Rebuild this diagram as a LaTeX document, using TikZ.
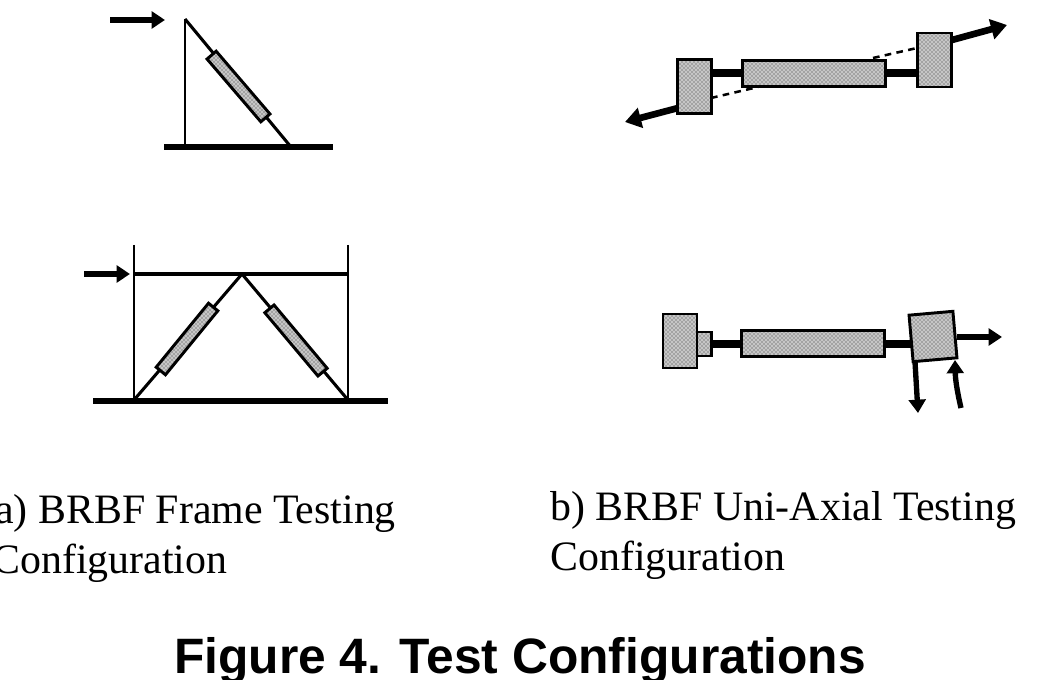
\documentclass[tikz,border=0pt]{standalone}
\usepackage{fontspec}
\usepackage{xcolor}
\setmainfont{Liberation Serif}
\setsansfont{Liberation Sans}
\usetikzlibrary{arrows.meta,positioning,patterns}

\begin{document}
\begin{tikzpicture}[
    x=0.75pt, y=-0.75pt,
    ground/.style={line width=4.2pt},
    member/.style={line width=2.3pt},
    thin member/.style={line width=2pt},
    rod/.style={line width=6pt},
    load/.style={line width=4pt, -{Triangle[length=10pt,width=12.5pt]}},
    big load/.style={line width=5pt, -{Triangle[length=12pt,width=15pt]}},
    tie/.style={line width=1.9pt, dash pattern=on 5pt off 4pt},
    brace/.style={rectangle, draw, line width=2.2pt, preaction={fill=gray!45}, pattern=crosshatch dots, pattern color=black!80, minimum width=62pt, minimum height=9pt, inner sep=0pt, outer sep=0pt},
    core/.style={brace, minimum height=19pt, minimum width=107pt},
    block/.style={brace, minimum width=0pt, minimum height=0pt},
    caption/.style={anchor=base west, inner sep=0pt, font=\fontsize{31.4pt}{34pt}\selectfont}]
    \useasboundingbox (0,0) rectangle (1037,680);

    % top left frame
    \coordinate (apex) at (185,19);
    \coordinate (foot) at (185,147);
    \coordinate (toe) at (291,147);
    \coordinate (gndA) at (164,147);
    \coordinate (gndB) at (333,147);
    \coordinate (pushA) at (110,20);
    \coordinate (pushB) at (165,20);
    \draw[thin member] (apex) -- (foot);
    \draw[member] (apex) -- (toe);
    \draw[ground] (gndA) -- (gndB);
    \draw[load] (pushA) -- (pushB);
    \node[brace, rotate=-49.4] (brace1) at (238.5,86.5) {};

    % bottom left frame
    \coordinate (colA) at (134,245);
    \coordinate (colB) at (348,245);
    \coordinate (baseA) at (134,400);
    \coordinate (baseB) at (348,400);
    \coordinate (beamA) at (134,274);
    \coordinate (beamB) at (348,274);
    \coordinate (peak) at (242,274);
    \coordinate (floorA) at (93,401);
    \coordinate (floorB) at (388,401);
    \coordinate (shoveA) at (84,274);
    \coordinate (shoveB) at (130,274);
    \draw[thin member] (colA) -- (baseA);
    \draw[thin member] (colB) -- (baseB);
    \draw[member] (beamA) -- (beamB);
    \draw[member] (baseA) -- (peak);
    \draw[member] (peak) -- (baseB);
    \draw[ground] (floorA) -- (floorB);
    \draw[load] (shoveA) -- (shoveB);
    \node[brace, rotate=50.7] (brace2) at (187,339) {};
    \node[brace, rotate=-50] (brace3) at (296,340.5) {};

    % top right specimen
    \coordinate (rodA) at (711,73);
    \coordinate (rodB) at (917,73);
    \coordinate (tieA) at (711,98);
    \coordinate (tieB) at (758,87);
    \coordinate (tieC) at (873,58);
    \coordinate (tieD) at (917,48);
    \coordinate (pullA) at (952,40);
    \coordinate (pullB) at (1007,25);
    \coordinate (pullC) at (678,108);
    \coordinate (pullD) at (625,122);
    \draw[rod] (rodA) -- (rodB);
    \draw[tie] (tieA) -- (tieB);
    \draw[tie] (tieC) -- (tieD);
    \draw[big load] (pullA) -- (pullB);
    \draw[big load] (pullC) -- (pullD);
    \node[core] (core1) at (814,73.5) {};
    \node[block, minimum width=25pt, minimum height=40pt] (left1) at (694.5,86.5) {};
    \node[block, minimum width=26pt, minimum height=40.5pt] (right1) at (934.5,60) {};

    % bottom right specimen
    \coordinate (tugA) at (957,337);
    \coordinate (tugB) at (1002,337);
    \coordinate (dropA) at (915,362);
    \coordinate (dropB) at (918,413);
    \coordinate (liftA) at (961,408);
    \coordinate (liftB) at (955,360);
    \coordinate (rodC) at (705,344);
    \coordinate (rodD) at (920,344);
    \draw[rod] (rodC) -- (rodD);
    \draw[load] (tugA) -- (tugB);
    \draw[load] (dropA) -- (dropB);
    \draw[load] (liftA) to[bend left=6] (liftB);
    \node[core] (core2) at (813,343.5) {};
    \node[block, minimum width=25.5pt, minimum height=40.5pt] (left2) at (680,341) {};
    \node[block, minimum width=11pt, minimum height=18pt, right=0pt of left2, yshift=-2.25pt] (collar) {};
    \node[block, rotate=5, minimum width=33pt, minimum height=35pt] (right2) at (933,336.5) {};

    % captions
    \node[caption] (capA) at (-5,523) {a) BRBF Frame Testing};
    \node[caption] (capB) at (-8,573) {Configuration};
    \node[caption] (capC) at (550,520) {b) BRBF Uni-Axial Testing};
    \node[caption] (capD) at (550,570) {Configuration};
    \node[anchor=base, font=\sffamily\bfseries\fontsize{37.3pt}{44pt}\selectfont] (title) at (520,673) {Figure 4. Test Configurations};
\end{tikzpicture}
\end{document}
